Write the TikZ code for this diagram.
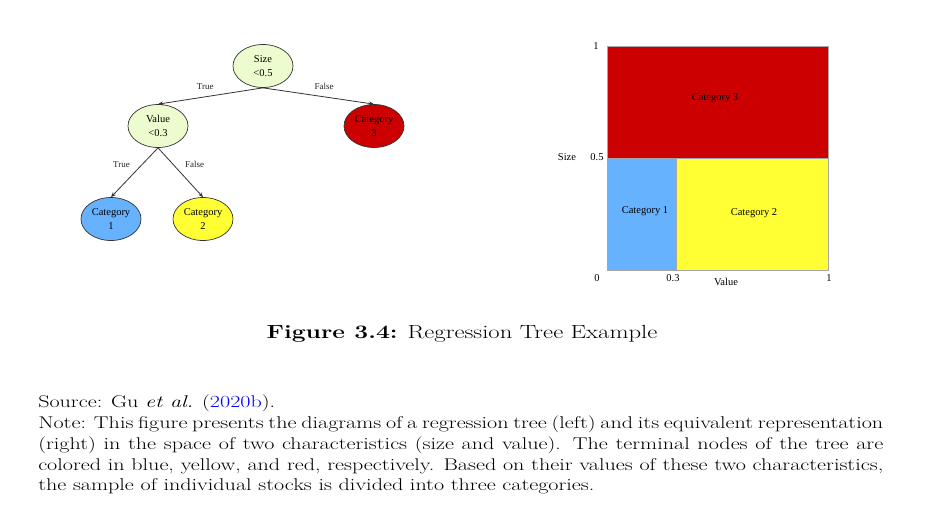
\documentclass[tikz,border=0pt]{standalone}
\usepackage{fontspec}
\newfontfamily\plotfont{Liberation Serif}
\usetikzlibrary{shapes.geometric,arrows.meta}
\definecolor{splitgreen}{HTML}{ECFCCF}
\definecolor{catred}{HTML}{CC0000}
\definecolor{catblue}{HTML}{66B2FF}
\definecolor{catyellow}{HTML}{FFFF33}

\begin{document}
\begin{tikzpicture}[x=1pt,y=-1pt,
    treenode/.style={ellipse,draw=black!80,line width=0.7pt,minimum width=60pt,minimum height=43pt,inner sep=0pt,align=center,font=\plotfont\fontsize{10.5}{14}\selectfont},
    splitnode/.style={treenode,fill=splitgreen},
    branch/.style={draw=black!80,line width=0.8pt,-{Stealth[length=5pt,width=4pt]}},
    branchlabel/.style={font=\plotfont\fontsize{9}{10}\selectfont,text=black!85},
    plotlabel/.style={font=\plotfont\fontsize{10.5}{12}\selectfont,inner sep=0pt},
    widetext/.style={inner sep=0pt,xscale=1.3,transform shape}]
\useasboundingbox (0,0) rectangle (934,514);
\fill[white] (0,0) rectangle (934,514);

\node[splitnode] (size) at (263,66) {Size\\<0.5};
\node[splitnode] (value) at (158,126) {Value\\<0.3};
\node[treenode,fill=catred] (cat3) at (374,126) {Category\\3};
\node[treenode,fill=catblue] (cat1) at (111,219) {Category\\1};
\node[treenode,fill=catyellow] (cat2) at (203,219) {Category\\2};
\draw[branch] (size.south) -- node[branchlabel,pos=0.55,above=3pt] {True} (value.north);
\draw[branch] (size.south) -- node[branchlabel,pos=0.55,above=3pt] {False} (cat3.north);
\draw[branch] (value.south) -- node[branchlabel,midway,above left=1pt] {True} (cat1.north);
\draw[branch] (value.south) -- node[branchlabel,midway,above right=1pt] {False} (cat2.north);

\fill[catred] (607,46) rectangle (828,158);
\fill[catblue] (607,158) rectangle (676,270);
\fill[catyellow] (676,158) rectangle (828,270);
\draw[black!35,line width=0.6pt] (607,46) rectangle (828,270);
\draw[black!35,line width=0.6pt] (607,158) -- (828,158) (676,158) -- (676,270);
\node[plotlabel] (region3) at (715,98) {Category 3};
\node[plotlabel] (region1) at (645,211) {Category 1};
\node[plotlabel] (region2) at (754,213) {Category 2};
\node[plotlabel] (ytop) at (596,46) {1};
\node[plotlabel] (ymid) at (597,157) {0.5};
\node[plotlabel] (ytitle) at (567,157) {Size};
\node[plotlabel] (origin) at (597,278) {0};
\node[plotlabel] (xmid) at (673,278) {0.3};
\node[plotlabel] (xtitle) at (726,282) {Value};
\node[plotlabel] (xright) at (829,278) {1};

\node[widetext,anchor=base,font=\fontsize{19}{23}\selectfont] (caption) at (462,338) {\textbf{Figure 3.4:} Regression Tree Example};
\node[widetext,anchor=north west,text width=650pt,align=justify,font=\fontsize{17}{20.7}\selectfont] (note) at (38,395) {Source: Gu \textit{et al.} (\textcolor{blue}{2020b}).\\
Note: This figure presents the diagrams of a regression tree (left) and its equivalent representation\linebreak
(right) in the space of two characteristics (size and value). The terminal nodes of the tree are\linebreak
colored in blue, yellow, and red, respectively. Based on their values of these two characteristics,\linebreak
the sample of individual stocks is divided into three categories.};
\end{tikzpicture}
\end{document}
